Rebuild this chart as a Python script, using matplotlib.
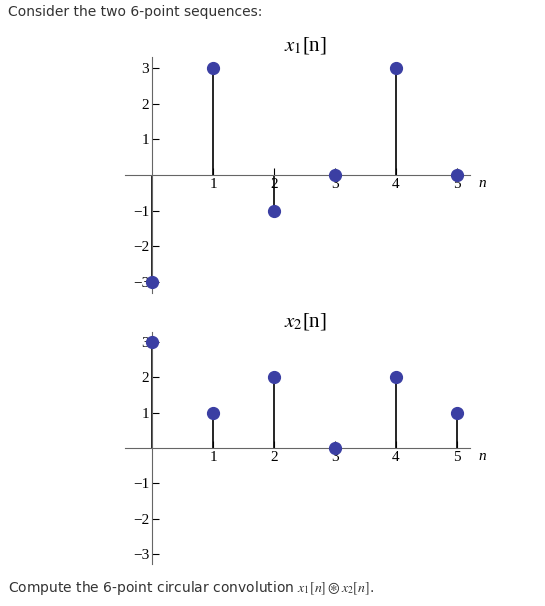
import matplotlib
matplotlib.use("Agg")
import matplotlib.pyplot as plt
plt.rcParams["mathtext.fontset"] = "stix"

n = [0, 1, 2, 3, 4, 5]
x1 = [-3, 3, -1, 0, 3, 0]
x2 = [3, 1, 2, 0, 2, 1]
yticks = [-3, -2, -1, 1, 2, 3]
xticks = [1, 2, 3, 4, 5]

W, H = 545, 606
fig = plt.figure(figsize=(W/100, H/100), dpi=100)
fig.text(8/W, 1-12/H, "Consider the two 6-point sequences:", fontsize=10, color="#333333",
         family="DejaVu Sans", va="center")
fig.text(8/W, 1-588/H, r"Compute the 6-point circular convolution $x_1[n]\circledast x_2[n]$.",
         fontsize=10, color="#333333", family="DejaVu Sans", va="center")

def panel(y0pix, unit, vals, title, tpix):
    xl, xr = 125, 470
    x0 = 152; ux = 61
    top = y0pix - 3.3*unit; bot = y0pix + 3.3*unit
    ax = fig.add_axes([xl/W, 1-bot/H, (xr-xl)/W, (bot-top)/H])
    ax.set_xlim((xl-x0)/ux, (xr-x0)/ux)
    ax.set_ylim(-3.3, 3.3)
    for s in ["top", "right"]:
        ax.spines[s].set_visible(False)
    ax.spines["left"].set_position(("data", 0))
    ax.spines["bottom"].set_position(("data", 0))
    ax.spines["left"].set_color("#666666")
    ax.spines["bottom"].set_color("#666666")
    ax.set_yticks(yticks)
    ax.set_yticklabels([str(v).replace("-", "\u2212") for v in yticks], family="Liberation Serif", fontsize=11)
    ax.set_xticks(xticks)
    ax.set_xticklabels([str(v) for v in xticks], family="Liberation Serif", fontsize=11)
    ax.tick_params(axis="y", direction="in", length=5, pad=2)
    ax.tick_params(axis="x", direction="in", length=5, pad=2)
    ax.vlines(n, 0, vals, color="black", lw=1.2)
    ax.plot(n, vals, "o", color="#3b3fa3", ms=8.5, clip_on=False, zorder=5)
    ax.text(5.35, -0.25, "n", style="italic", family="Liberation Serif", fontsize=11, va="center")
    fig.text(305/W, 1-tpix/H, title, ha="center", va="center", fontsize=15, family="Liberation Serif")
    return ax

panel(175, 35.7, x1, r"$x_1$[n]", 45)
panel(448, 35.3, x2, r"$x_2$[n]", 322)
fig.savefig("out.png", dpi=100)
